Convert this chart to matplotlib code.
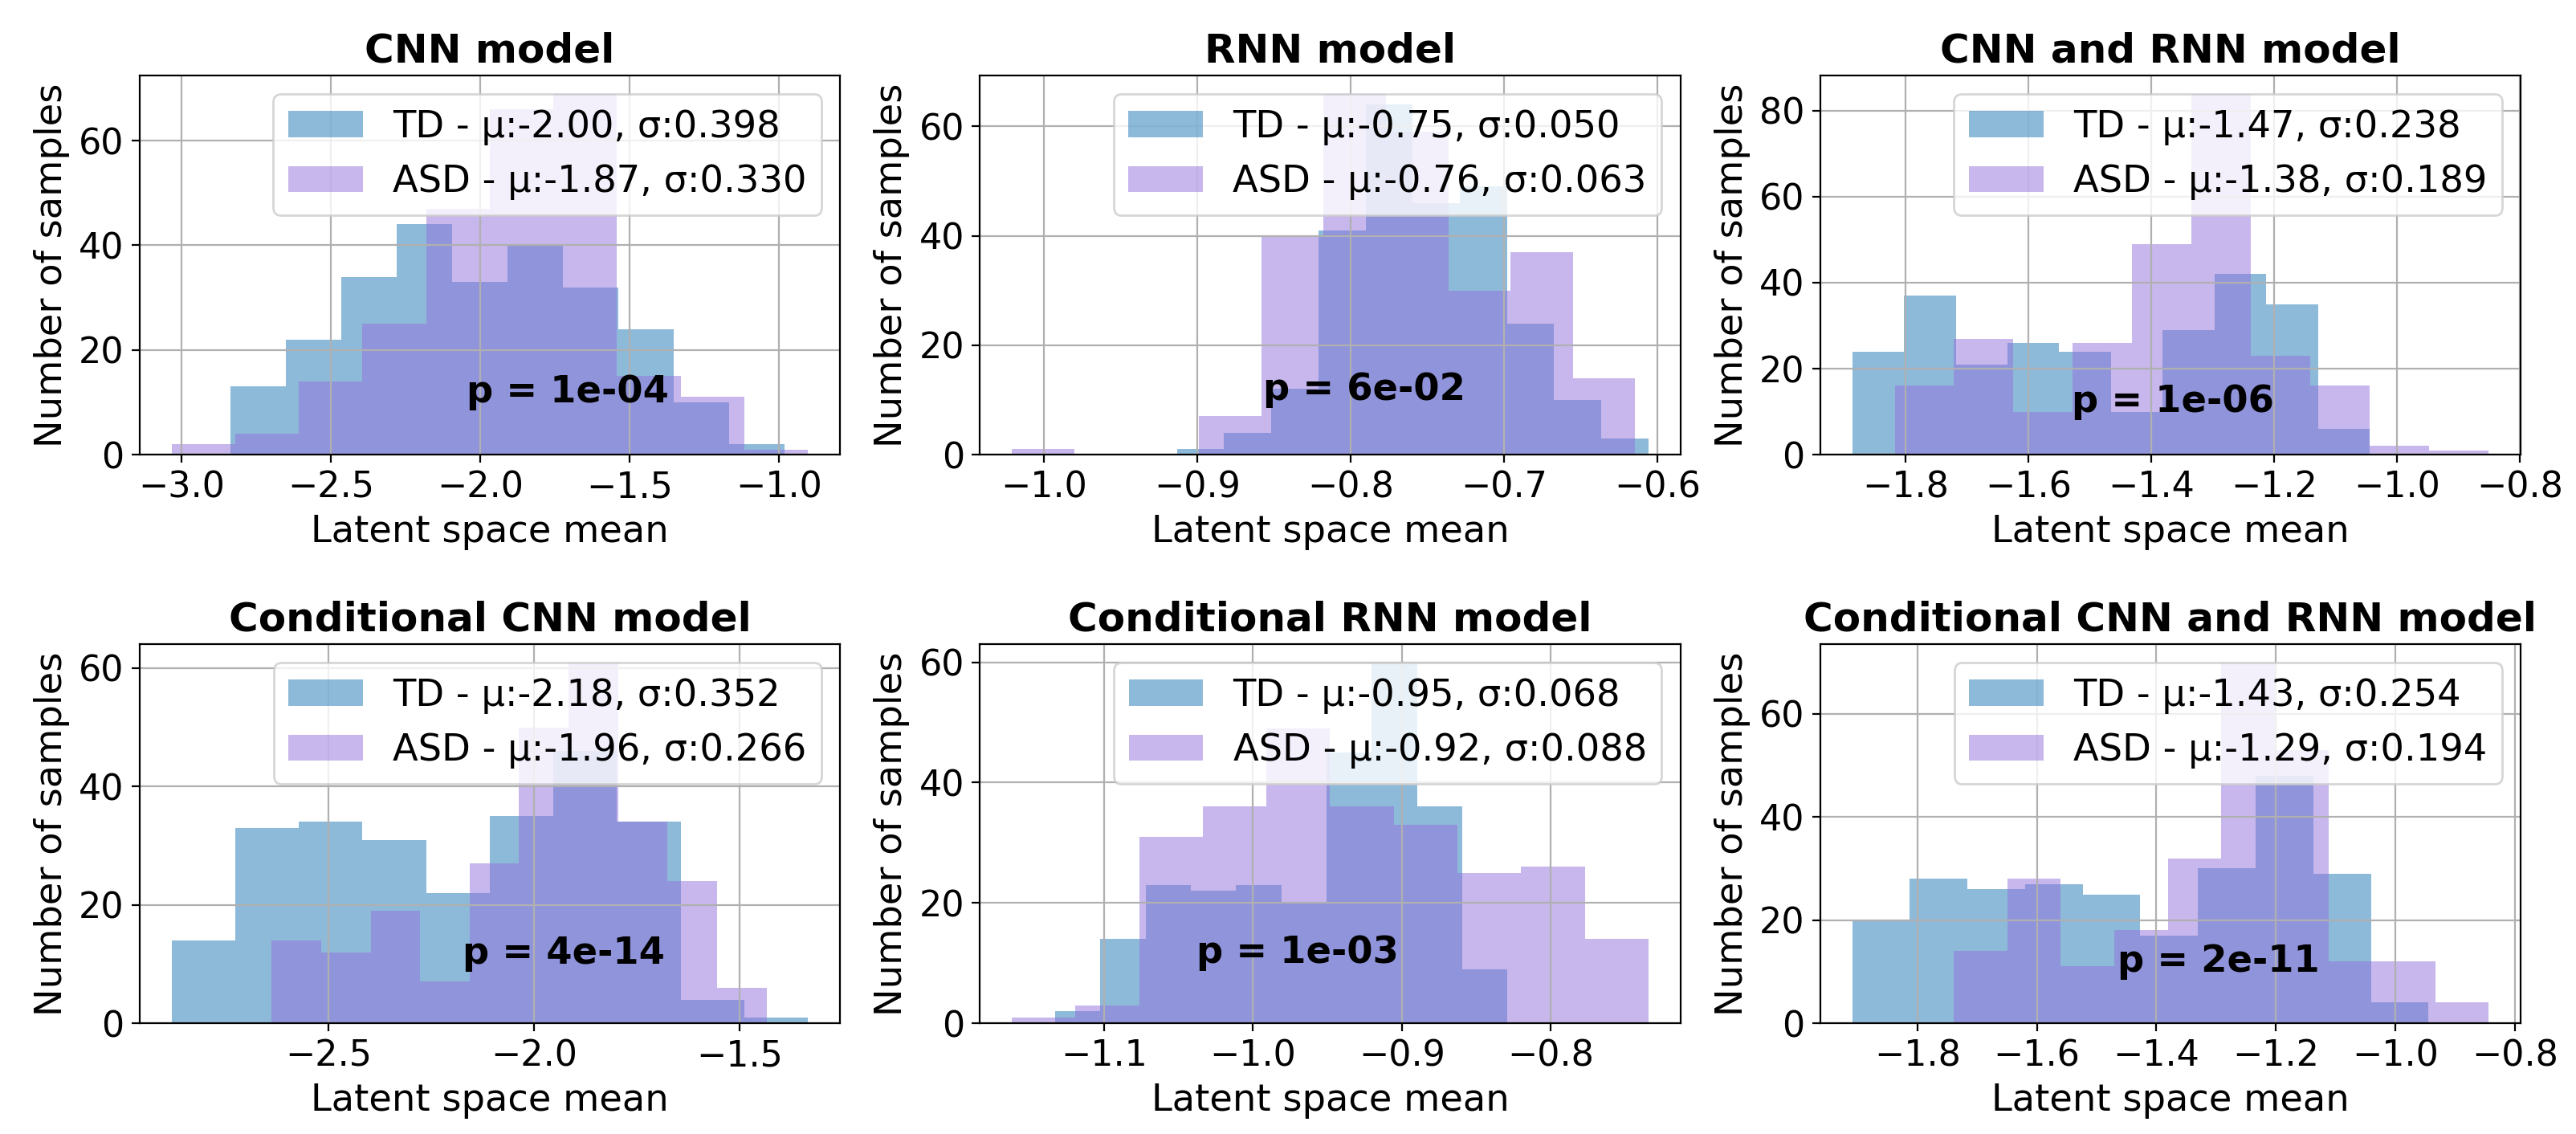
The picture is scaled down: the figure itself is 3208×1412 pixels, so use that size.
import numpy as np
import matplotlib
matplotlib.use("Agg")
import matplotlib.pyplot as plt

titles = ["CNN model", "RNN model", "CNN and RNN model",
          "Conditional CNN model", "Conditional RNN model", "Conditional CNN and RNN model"]

# bin ranges (min, max of each sample set), 10 bins each
td_range = [(-2.836, -0.982), (-0.9134, -0.6057), (-1.8872, -1.0446),
            (-2.883, -1.333), (-1.1328, -0.8291), (-1.9092, -0.9443)]
asd_range = [(-3.033, -0.903), (-1.0211, -0.6143), (-1.818, -0.851),
             (-2.639, -1.434), (-1.1618, -0.7345), (-1.739, -0.8435)]

td_counts = [
    [13, 22, 34, 44, 33, 40, 32, 24, 10, 2],
    [1, 4, 12, 41, 64, 46, 49, 24, 10, 3],
    [24, 37, 21, 26, 24, 10, 29, 42, 35, 6],
    [14, 33, 34, 31, 22, 35, 46, 34, 4, 1],
    [2, 14, 23, 22, 23, 20, 45, 60, 36, 9],
    [20, 28, 26, 27, 25, 17, 30, 48, 29, 4],
]
asd_counts = [
    [2, 4, 14, 25, 47, 66, 69, 15, 11, 1],
    [1, 0, 0, 7, 40, 66, 59, 30, 37, 14],
    [16, 27, 10, 26, 49, 84, 23, 16, 2, 1],
    [14, 12, 19, 7, 27, 50, 61, 34, 24, 6],
    [1, 3, 31, 36, 49, 36, 33, 25, 26, 14],
    [14, 28, 11, 18, 32, 70, 53, 12, 12, 4],
]

td_mu = [-2.00, -0.75, -1.47, -2.18, -0.95, -1.43]
td_sd = [0.398, 0.050, 0.238, 0.352, 0.068, 0.254]
asd_mu = [-1.87, -0.76, -1.38, -1.96, -0.92, -1.29]
asd_sd = [0.330, 0.063, 0.189, 0.266, 0.088, 0.194]

p_labels = ["p = 1e-04", "p = 6e-02", "p = 1e-06", "p = 4e-14", "p = 1e-03", "p = 2e-11"]
p_x = [-2.045, -0.857, -1.53, -2.175, -1.038, -1.465]
p_y = [10, 10, 10, 10, 10, 10]

plt.rcParams['font.family'] = ['DejaVu Sans']

fig, axes = plt.subplots(2, 3, figsize=(16.04, 7.06), dpi=200)
fig.subplots_adjust(left=0.0542, right=0.9785, top=0.9334, bottom=0.0977,
                    wspace=0.2, hspace=0.5)

for i, ax in enumerate(axes.flat):
    lo, hi = td_range[i]
    e_td = np.linspace(lo, hi, 11)
    c_td = (e_td[:-1] + e_td[1:]) / 2
    lo, hi = asd_range[i]
    e_asd = np.linspace(lo, hi, 11)
    c_asd = (e_asd[:-1] + e_asd[1:]) / 2
    ax.hist(c_td, bins=e_td, weights=td_counts[i], alpha=0.5, color='#1f77b4',
            label=f"TD - \u03bc:{td_mu[i]:.2f}, \u03c3:{td_sd[i]:.3f}")
    ax.hist(c_asd, bins=e_asd, weights=asd_counts[i], alpha=0.5, color='mediumpurple',
            label=f"ASD - \u03bc:{asd_mu[i]:.2f}, \u03c3:{asd_sd[i]:.3f}")
    ax.grid(True)
    ax.set_title(titles[i], fontsize=18, fontweight='bold')
    ax.set_xlabel("Latent space mean", fontsize=16.7)
    ax.set_ylabel("Number of samples", fontsize=16.7)
    ax.tick_params(labelsize=16)
    ax.legend(loc='upper right', fontsize=16.7)
    ax.text(p_x[i], p_y[i], p_labels[i], fontsize=16.7, fontweight='bold')

fig.savefig("out.png", dpi=200)
